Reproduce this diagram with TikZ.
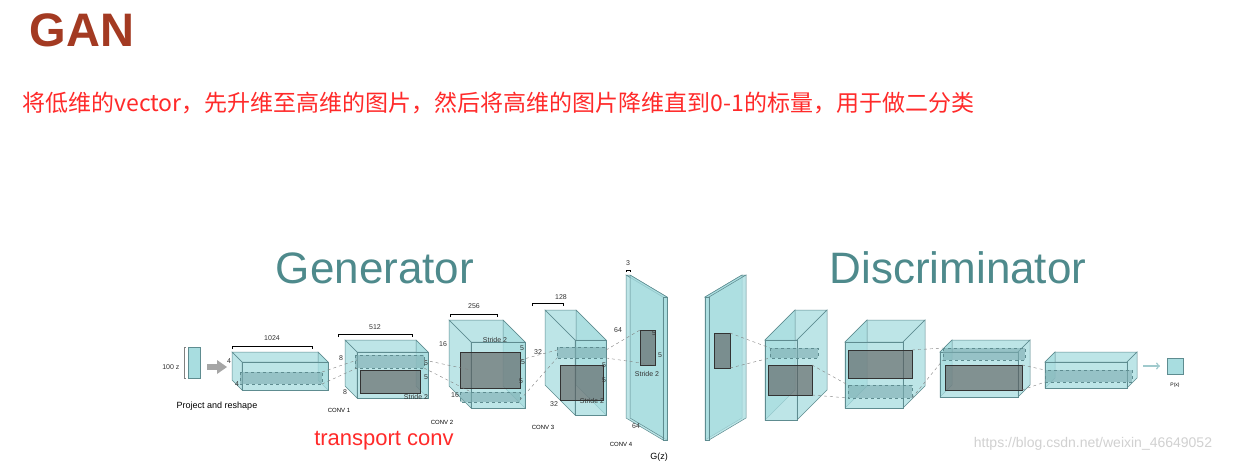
\documentclass[tikz,border=0pt]{standalone}
\usepackage{fontspec}
\setmainfont{Liberation Sans}
\newfontfamily\cjk{Noto Sans CJK SC}
\definecolor{cf}{HTML}{A8DDE0}
\definecolor{ce}{HTML}{5E8C90}
\definecolor{gt}{HTML}{4E8A8C}
\definecolor{gan}{HTML}{A33A22}
\definecolor{rd}{HTML}{FF2A2A}
\newcommand\cub[7][cf]{%
 \filldraw[fill=#1,draw=ce,fill opacity=.75,line width=.5pt]
  (#2,#3)--(#2+#6,#3-#7)--(#4+#6,#3-#7)--(#4,#3)--cycle;
 \filldraw[fill=#1,draw=ce,fill opacity=.75,line width=.5pt]
  (#2,#3)--(#2+#6,#3-#7)--(#2+#6,#5-#7)--(#2,#5)--cycle;
 \filldraw[fill=#1,draw=ce,fill opacity=.75,line width=.5pt]
  (#4,#3)--(#4+#6,#3-#7)--(#4+#6,#5-#7)--(#4,#5)--cycle;
 \filldraw[fill=#1,draw=ce,fill opacity=.75,line width=.5pt] (#2,#3) rectangle (#4,#5);}
\newcommand\dk[4]{\filldraw[fill=gray!70!black,draw=gray!40!black,fill opacity=.6] (#1,#2) rectangle (#3,#4);}
\newcommand\st[4]{\filldraw[fill=ce!60!cf,draw=ce,dashed,fill opacity=.6] (#1,#2) rectangle (#3,#4);}
\tikzset{sm/.style={font=\fontsize{7}{8}\selectfont,text=black!80},
 dl/.style={gray,dashed,line width=.4pt}}
\begin{document}
\begin{tikzpicture}[x=1pt,y=-1pt]
\useasboundingbox (0,0) rectangle (1240,464);
\fill[white] (0,0) rectangle (1240,464);
\node[anchor=west,font=\bfseries\fontsize{47}{47}\selectfont,text=gan] (t) at (26,30) {GAN};
\node[anchor=west,font=\cjk\fontsize{23}{24}\selectfont,text=rd] (s) at (19,103) {将低维的vector，先升维至高维的图片，然后将高维的图片降维直到0-1的标量，用于做二分类};
\node[font=\fontsize{44}{44}\selectfont,text=gt] (g) at (375,268) {Generator};
\node[font=\fontsize{44}{44}\selectfont,text=gt] (d) at (958,268) {Discriminator};
\node[font=\fontsize{22}{22}\selectfont,text=rd] (tc) at (384,441) {transport conv};
\node[font=\fontsize{14}{14}\selectfont,text=black!18] (w) at (1093,444) {https://blog.csdn.net/weixin\_46649052};
% generator
\filldraw[fill=cf,draw=ce] (188,347) rectangle (200,378);
\draw[gray] (186,347)--(184,347)--(184,378)--(186,378);
\node[sm,anchor=east] (z) at (183,367) {100 z};
\fill[gray!70] (207,364) rectangle (218,370);
\fill[gray!70] (217,360)--(227,367)--(217,374)--cycle;
\node[font=\fontsize{9}{9}\selectfont] (pr) at (217,406) {Project and reshape};
\cub{242}{362}{328}{390}{-10}{10}
\st{240}{372}{322}{384}
\cub{357}{352}{428}{398}{-12}{12}
\st{355}{355}{424}{368}\dk{360}{370}{420}{393}
\cub{471}{342}{525}{408}{-22}{22}
\dk{460}{352}{520}{388}\st{460}{392}{520}{402}
\cub{575}{340}{606}{415}{-30}{30}
\st{557}{347}{606}{358}\dk{560}{365}{603}{400}
\cub{663}{297}{667}{440}{-37}{22}
\dk{640}{330}{655}{365}
\foreach \a/\b/\c/\d in {322/372/357/360,322/384/357/368,424/360/471/370,424/368/471/392,
 520/360/557/350,520/400/557/358,606/350/640/330,606/358/655/365}
 \draw[dl] (\a,\b)--(\c,\d);
\draw (232,349)--(232,346)--(312,346)--(312,349); \node[sm] (l1) at (272,338) {1024};
\draw (338,337)--(338,334)--(412,334)--(412,337); \node[sm] (l2) at (375,327) {512};
\draw (450,317)--(450,314)--(497,314)--(497,317); \node[sm] (l3) at (474,306) {256};
\draw (532,306)--(532,303)--(563,303)--(563,306); \node[sm] (l4) at (561,297) {128};
\draw (626,272)--(626,270)--(630,270)--(630,272); \node[sm] (l5) at (628,263) {3};
\foreach \x/\y/\t in {229/361/4,237/384/4,341/358/8,345/392/8,443/344/16,455/395/16,538/352/32,554/404/32,618/330/64,636/426/64,
 416/397/Stride 2,495/340/Stride 2,592/401/Stride 2,647/374/Stride 2,
 426/363/5,426/377/5,522/348/5,523/362/5,521/381/5,604/365/5,604/380/5,654/333/5,660/355/5}
 \node[sm] at (\x,\y) {\t};
\foreach \x/\y/\t in {339/410/CONV 1,442/422/CONV 2,543/427/CONV 3,621/444/CONV 4}
 \node[font=\fontsize{6}{6}\selectfont] at (\x,\y) {\t};
\node[font=\fontsize{9}{9}\selectfont] (gz) at (659,457) {G(z)};
% discriminator
\cub{705}{297}{709}{440}{37}{22}
\dk{714}{333}{730}{368}
\cub{765}{340}{797}{420}{30}{30}
\st{770}{348}{818}{358}\dk{768}{365}{812}{395}
\cub{845}{342}{903}{408}{22}{22}
\dk{848}{350}{912}{378}\st{848}{385}{912}{398}
\cub{940}{352}{1018}{397}{12}{12}
\st{943}{348}{1025}{360}\dk{945}{365}{1022}{390}
\cub{1045}{362}{1127}{388}{10}{10}
\st{1045}{370}{1132}{382}
\foreach \a/\b/\c/\d in {730/333/770/348,730/368/770/358,812/365/848/385,812/395/848/398,
 912/350/943/348,912/398/943/360,1022/365/1045/370,1022/390/1045/382}
 \draw[dl] (\a,\b)--(\c,\d);
\draw[->,cf!80!gray,line width=1.5pt] (1143,366)--(1160,366);
\filldraw[fill=cf,draw=ce] (1167,358) rectangle (1183,374);
\node[font=\fontsize{5}{5}\selectfont] (px) at (1175,385) {P(x)};
\end{tikzpicture}
\end{document}
